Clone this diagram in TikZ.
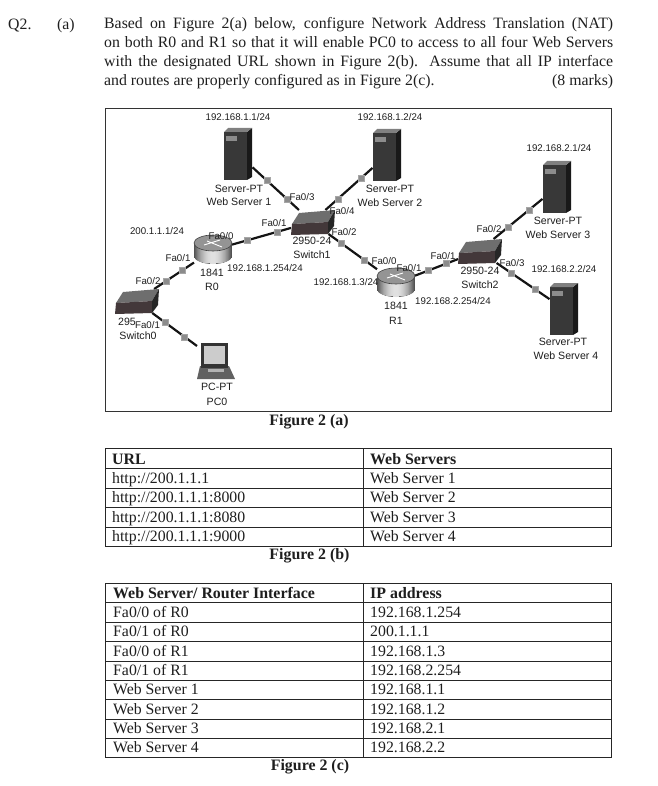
\documentclass[tikz,border=0pt]{standalone}
\usepackage{fontspec}
\setmainfont{Liberation Serif}
\newfontfamily\labelfont{Liberation Sans}
\usetikzlibrary{positioning,calc,backgrounds}
\definecolor{inkgray}{HTML}{1E1E1E}
\definecolor{portgray}{HTML}{8C8C8C}
\definecolor{swfront}{HTML}{43383A}
\definecolor{swtop}{HTML}{6E6E6E}
\newcommand{\ServerIcon}[2]{%
  \node[devbox, minimum width=29pt, minimum height=52pt] (#1) at (#2) {};
  \begin{scope}[shift={(#2)}]
    \fill[black!78] (-14,-22) rectangle (9,26);
    \fill[black!90] (9,-22) -- (14,-26) -- (14,23) -- (9,26) -- cycle;
    \fill[black!50] (-14,-22) -- (-10,-26) -- (14,-26) -- (9,-22) -- cycle;
    \fill[black!45] (-12,-18) rectangle (-1,-13);
  \end{scope}}
\newcommand{\SwitchIcon}[2]{%
  \node[devbox, minimum width=42pt, minimum height=24pt] (#1) at (#2) {};
  \begin{scope}[shift={(#2)}]
    \fill[swtop] (-13,-9) -- (23,-12) -- (16,0) -- (-20,2) -- cycle;
    \fill[swfront] (-20,2) -- (16,0) -- (16,12) -- (-21,13) -- cycle;
    \fill[black!85] (23,-12) -- (22,4) -- (16,12) -- (16,0) -- cycle;
  \end{scope}}
\newcommand{\RouterIcon}[2]{%
  \node[devbox, minimum width=38pt, minimum height=29pt] (#1) at (#2) {};
  \begin{scope}[shift={(#2)}]
    \fill[black!60] (0,6) ellipse[x radius=19, y radius=8];
    \fill[black!60] (-19,-7) rectangle (19,6);
    \foreach \k in {-19,...,18}{
      \pgfmathsetmacro{\shadeval}{int(12+60*((\k+0.5)/19)^2)}
      \fill[black!\shadeval] (\k,-7) rectangle (\k+1.2,{6+7.6*sqrt(max(0,1-((\k+0.5)/19)^2))});
    }
    \filldraw[fill=black!42, draw=black!75, line width=.6pt] (0,-7) ellipse[x radius=19, y radius=8];
    \draw[white, line width=.9pt] (-9,-5) -- (7,-10) (-6,-9) -- (9,-3);
  \end{scope}}
\tikzset{
  devbox/.style={inner sep=0pt, outer sep=0pt},
  link/.style={line width=2.2pt, black!92},
  port/.style={fill=portgray, draw=black!35, line width=.2pt, minimum size=6pt, inner sep=0pt},
  netlbl/.style={font=\labelfont\fontsize{9.7}{11}\selectfont, inner sep=0pt, text=inkgray},
  devlbl/.style={font=\labelfont\fontsize{10.6}{12}\selectfont, inner sep=0pt, text=inkgray},
  doctxt/.style={font=\fontsize{15.8}{19}\selectfont, inner sep=0pt, text=inkgray},
  cell/.style={doctxt, anchor=base west},
  headcell/.style={cell, font=\bfseries\fontsize{15.9}{19}\selectfont},
  caption/.style={doctxt, font=\bfseries\fontsize{15.9}{19}\selectfont},
  rule/.style={line width=.8pt, black!85}
}
\begin{document}
\begin{tikzpicture}[x=1pt, y=-1pt]
\useasboundingbox (0,0) rectangle (657,786);
% question text
\node[doctxt, anchor=base west] (qnum) at (8,30) {Q2.};
\node[doctxt, anchor=base west] (qpart) at (57,30) {(a)};
\node[doctxt, anchor=north west, text width=509pt, align=justify] (qbody) at (104,17) {%
  Based on Figure 2(a) below, configure Network Address Translation (NAT)\linebreak
  on both R0 and R1 so that it will enable PC0 to access to all four Web Servers\linebreak
  with the designated URL shown in Figure 2(b). Assume that all IP interface\linebreak
  and routes are properly configured as in Figure 2(c).\hfill(8 marks)};
% network frame
\node[draw=black!80, line width=.9pt, minimum width=506pt, minimum height=303pt, inner sep=0pt] (netframe) at (358,259.5) {};
\ServerIcon{srv1}{238,154}
\ServerIcon{srv2}{387,155}
\ServerIcon{srv3}{557,187}
\ServerIcon{srv4}{564,309}
\SwitchIcon{sw1}{312,222}
\SwitchIcon{sw2}{479,251}
\SwitchIcon{sw0}{136,301}
\RouterIcon{r0}{213,250}
\RouterIcon{r1}{396,283}
% the PC
\node[devbox, minimum width=38pt, minimum height=37pt] (pc0) at (216,360) {};
\begin{scope}[shift={(216,360)}]
  \fill[black!62] (-16,6) -- (13,6) -- (19,19) -- (-19,19) -- cycle;
  \fill[black!30] (-8,9) rectangle (8,12);
  \fill[black!80] (-15,-17) rectangle (12,8);
  \fill[black!20] (-12,-14) rectangle (9,4);
\end{scope}
% links and their ports
\begin{scope}[on background layer]
\foreach \from/\to/\pa/\pb in {srv1/sw1/.31/.74, srv2/sw1/.25/.73, r0/sw1/.26/.76, r0/sw0/.30/.69,
  sw0/pc0/.29/.72, sw1/r1/.25/.73, r1/sw2/.31/.73, sw2/srv3/.29/.73, sw2/srv4/.27/.73}
  \draw[link] (\from) -- node[port, pos=\pa] (\from-\to-a) {} node[port, pos=\pb] (\from-\to-b) {} (\to);
\end{scope}
% device names
\foreach \x/\y/\txt [count=\i] in {
  239/189/Server-PT, 239/202/Web Server 1, 390/189/Server-PT, 390/203/Web Server 2,
  558/221/Server-PT, 558/235/Web Server 3, 563/342/Server-PT, 566/356/Web Server 4,
  312/241/2950-24, 312/255/Switch1, 480/271/2950-24, 480/285/Switch2,
  212/273/1841, 212/287/R0, 396/306/1841, 396/321/R1,
  217/387/PC-PT, 217/402/PC0, 127/322/295, 138/336/Switch0}
  \node[devlbl] (dev\i) at (\x,\y) {\txt};
% addresses and interfaces
\foreach \x/\y/\txt [count=\i] in {
  238/117/192.168.1.1{/}24, 390/117/192.168.1.2{/}24, 559/148/192.168.2.1{/}24, 564/269/192.168.2.2{/}24,
  157/231/200.1.1.1{/}24, 265/268/192.168.1.254{/}24, 346/282/192.168.1.3{/}24, 453/301/192.168.2.254{/}24,
  302/197/Fa0{/}3, 342/211/Fa0{/}4, 274/223/Fa0{/}1, 344/232/Fa0{/}2, 221/236/Fa0{/}0,
  178/258/Fa0{/}1, 148/281/Fa0{/}2, 147.5/325.5/Fa0{/}1, 384/261/Fa0{/}0, 409/268/Fa0{/}1,
  443/256/Fa0{/}1, 489/229/Fa0{/}2, 512/263/Fa0{/}3}
  \node[netlbl] (lbl\i) at (\x,\y) {\txt};
\node[caption] (capa) at (309,422) {Figure 2 (a)};
% table b
\draw[rule] (105,448.5) rectangle (611,546.5) (363,448.5) -- (363,546.5);
\foreach \y in {468.8,488.4,507.6,526.9}
  \draw[rule] (105,\y) -- (611,\y);
\node[headcell] (urlh) at (112,464) {URL};
\node[headcell] (wsh) at (370,464) {Web Servers};
\foreach \y/\url/\srv [count=\i] in {
  483/{http://200.1.1.1}/Web Server 1,
  502.5/{http://200.1.1.1:8000}/Web Server 2,
  522/{http://200.1.1.1:8080}/Web Server 3,
  541/{http://200.1.1.1:9000}/Web Server 4}{
  \node[cell] (url\i) at (112,\y) {\url};
  \node[cell] (ws\i) at (370,\y) {\srv};
}
\node[caption] (capb) at (309.5,556) {Figure 2 (b)};
% table c
\draw[rule] (105,583.5) rectangle (611,757.5) (363,583.5) -- (363,757.5);
\foreach \y in {602.8,622.4,641.6,661.2,680.5,699.7,719,737.9}
  \draw[rule] (105,\y) -- (611,\y);
\node[headcell] (ifh) at (113,598) {Web Server/ Router Interface};
\node[headcell] (iph) at (370,598) {IP address};
\foreach \y/\ifc/\ip [count=\i] in {
  617/Fa0{/}0 of R0/192.168.1.254,
  636.5/Fa0{/}1 of R0/200.1.1.1,
  656/Fa0{/}0 of R1/192.168.1.3,
  675/Fa0{/}1 of R1/192.168.2.254,
  694.5/Web Server 1/192.168.1.1,
  714/Web Server 2/192.168.1.2,
  733/Web Server 3/192.168.2.1,
  752/Web Server 4/192.168.2.2}{
  \node[cell] (ifc\i) at (113,\y) {\ifc};
  \node[cell] (ip\i) at (370,\y) {\ip};
}
\node[caption] (capc) at (310,766.5) {Figure 2 (c)};
\end{tikzpicture}
\end{document}
